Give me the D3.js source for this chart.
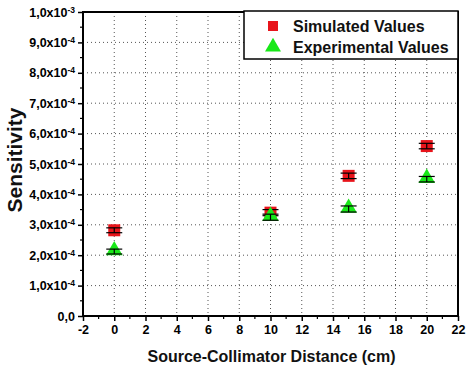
<!DOCTYPE html>
<html>
<head>
<meta charset="utf-8">
<title>Sensitivity</title>
<style>
  body { margin: 0; background: #fff; }
  svg text { font-family: Arial, "Liberation Sans", sans-serif !important; font-weight: bold !important; }
</style>
</head>
<body>
<svg width="474" height="372"></svg>
<script src="https://d3js.org/d3.v7.min.js"></script>
<script>
// data
const distances = [0, 10, 15, 20];
const simulated = [2.82e-4, 3.40e-4, 4.61e-4, 5.59e-4];
const simulatedErr = [0.08e-4, 0.10e-4, 0.09e-4, 0.09e-4];
const experimental = [2.12e-4, 3.25e-4, 3.52e-4, 4.50e-4];
const experimentalErr = [0.08e-4, 0.10e-4, 0.10e-4, 0.09e-4];
const xTicks = [-2, 0, 2, 4, 6, 8, 10, 12, 14, 16, 18, 20, 22];
const yTicks = [0, 1e-4, 2e-4, 3e-4, 4e-4, 5e-4, 6e-4, 7e-4, 8e-4, 9e-4, 1e-3];
const legendLabels = ['Simulated Values', 'Experimental Values'];

const svg = d3.select('svg');
const plotL = 83, plotR = 458, plotT = 12, plotB = 316;

const x = d3.scaleLinear().domain([-2, 22]).range([plotL, plotR]);
const y = d3.scaleLinear().domain([0, 1e-3]).range([plotB, plotT]);

// grid
const grid = svg.append('g').attr('stroke', '#555').attr('stroke-width', 1)
  .attr('stroke-dasharray', '1,3');
grid.selectAll('.gx').data(xTicks.slice(1, -1)).enter().append('line')
  .attr('x1', d => x(d)).attr('x2', d => x(d))
  .attr('y1', plotT).attr('y2', plotB);
grid.selectAll('.gy').data(yTicks.slice(1, -1)).enter().append('line')
  .attr('x1', plotL).attr('x2', plotR)
  .attr('y1', d => y(d)).attr('y2', d => y(d));

// axes
const xAxis = d3.axisBottom(x).tickValues(xTicks).tickSize(5).tickPadding(4)
  .tickFormat(d => d);
const gx = svg.append('g').attr('transform', `translate(0,${plotB})`).call(xAxis);
gx.select('.domain').remove();
gx.attr('font-size', 12.5).attr('font-weight', 'bold');
gx.selectAll('.tick line').attr('stroke-width', 1.5);
gx.selectAll('text').attr('fill', '#000');
// minor x ticks
svg.append('g').selectAll('line').data(d3.range(-1, 22, 2)).enter().append('line')
  .attr('x1', d => x(d)).attr('x2', d => x(d))
  .attr('y1', plotB).attr('y2', plotB + 3)
  .attr('stroke', '#000').attr('stroke-width', 1.2);

const yAxis = d3.axisLeft(y).tickValues(yTicks).tickSize(5).tickPadding(3).tickFormat('');
const gy = svg.append('g').attr('transform', `translate(${plotL},0)`).call(yAxis);
gy.select('.domain').remove();
gy.attr('font-size', 12.5).attr('font-weight', 'bold');
gy.selectAll('.tick line').attr('stroke-width', 1.5);
gy.selectAll('.tick').append('text')
  .attr('x', -8).attr('dy', '0.32em').attr('text-anchor', 'end')
  .attr('fill', '#000')
  .each(function(d) {
    const t = d3.select(this);
    if (d === 0) { t.text('0,0'); return; }
    const e = Math.floor(Math.log10(d) + 1e-9);
    const m = d / Math.pow(10, e);
    t.append('tspan').text(m.toFixed(1).replace('.', ',') + 'x10');
    t.append('tspan').attr('dy', '-0.45em').attr('font-size', 8.5).text(e);
  });
// minor y ticks
svg.append('g').selectAll('line').data(d3.range(0.5e-4, 1e-3, 1e-4)).enter().append('line')
  .attr('x1', plotL - 3).attr('x2', plotL)
  .attr('y1', d => y(d)).attr('y2', d => y(d))
  .attr('stroke', '#000').attr('stroke-width', 1.2);

// frame
svg.append('rect').attr('x', plotL).attr('y', plotT)
  .attr('width', plotR - plotL).attr('height', plotB - plotT)
  .attr('fill', 'none').attr('stroke', '#000').attr('stroke-width', 2);

// axis titles
svg.append('text').attr('x', (plotL + plotR) / 2 + 1).attr('y', 362)
  .attr('text-anchor', 'middle').attr('font-size', 16).attr('fill', '#111')
  .text('Source-Collimator Distance (cm)');
svg.append('text').attr('transform', 'translate(22,160) rotate(-90)')
  .attr('text-anchor', 'middle').attr('font-size', 21).attr('fill', '#111')
  .text('Sensitivity');

// series
const sim = distances.map((d, i) => ({x: d, v: simulated[i], e: simulatedErr[i]}));
const exp = distances.map((d, i) => ({x: d, v: experimental[i], e: experimentalErr[i]}));

function errorBars(data) {
  const g = svg.append('g').attr('stroke', '#000').attr('stroke-width', 1.2);
  g.selectAll('.v').data(data).enter().append('line')
    .attr('x1', d => x(d.x)).attr('x2', d => x(d.x))
    .attr('y1', d => y(d.v - d.e)).attr('y2', d => y(d.v + d.e));
  g.selectAll('.lo').data(data).enter().append('line')
    .attr('x1', d => x(d.x) - 8).attr('x2', d => x(d.x) + 8)
    .attr('y1', d => y(d.v - d.e)).attr('y2', d => y(d.v - d.e));
  g.selectAll('.hi').data(data).enter().append('line')
    .attr('x1', d => x(d.x) - 8).attr('x2', d => x(d.x) + 8)
    .attr('y1', d => y(d.v + d.e)).attr('y2', d => y(d.v + d.e));
}

const square = d3.symbol().type(d3.symbolSquare).size(144);
const triangle = d3.symbol().type(d3.symbolTriangle).size(120);

svg.append('g').selectAll('path').data(sim).enter().append('path')
  .attr('d', square).attr('fill', '#e8141b')
  .attr('transform', d => `translate(${x(d.x)},${y(d.v)})`);
errorBars(sim);
svg.append('g').selectAll('path').data(exp).enter().append('path')
  .attr('d', triangle).attr('fill', '#18e818')
  .attr('transform', d => `translate(${x(d.x)},${y(d.v) - 1})`);
errorBars(exp);

// legend
const lg = svg.append('g');
lg.append('rect').attr('x', 244).attr('y', 11).attr('width', 214).attr('height', 48)
  .attr('fill', '#fff').attr('stroke', '#000').attr('stroke-width', 1.5);
const rows = lg.selectAll('.row').data(legendLabels).enter().append('g')
  .attr('transform', (d, i) => `translate(273,${26 + i * 21})`);
rows.append('path')
  .attr('d', (d, i) => (i === 0 ? d3.symbol().type(d3.symbolSquare).size(100) : d3.symbol().type(d3.symbolTriangle).size(110))())
  .attr('fill', (d, i) => i === 0 ? '#e8141b' : '#18e818');
rows.append('text').attr('x', 20).attr('dy', '0.36em')
  .attr('font-size', 16).attr('fill', '#111').text(d => d);
</script>
</body>
</html>
